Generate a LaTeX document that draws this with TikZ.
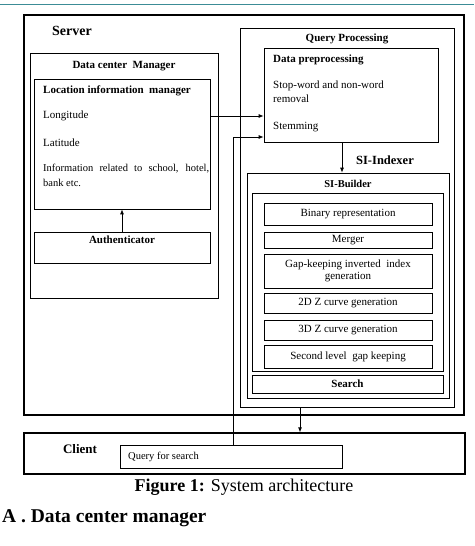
\documentclass[tikz,border=0pt]{standalone}
\usepackage{fontspec}
\setmainfont{Liberation Serif}
\usetikzlibrary{positioning, fit, arrows.meta}

\tikzset{
  box/.style={draw, line width=0.7pt, inner sep=0pt},
  outerbox/.style={draw, line width=1.3pt, inner sep=0pt},
  item/.style={draw, line width=0.7pt, inner sep=0pt},
  itemtext/.style={align=center, inner sep=0pt, font=\fontsize{11}{12}\selectfont},
  title/.style={font=\bfseries\fontsize{11}{12}\selectfont, inner sep=0pt},
  txt/.style={font=\fontsize{11}{12}\selectfont, inner sep=0pt, anchor=west},
  arr/.style={line width=0.8pt, -{Latex[length=5pt,width=4pt]}},
  link/.style={line width=0.8pt}
}

\begin{document}
\begin{tikzpicture}[x=1pt, y=-1pt]
	\useasboundingbox (0,0) rectangle (474,546);
	\draw [color={rgb,255:red,60;green,140;blue,150}, line width=1pt] (0,4) -- (474,4);

	% server side
	\node [outerbox, fit={(24,15) (464,415)}] (server) {};
	\node [title, font=\bfseries\fontsize{14}{15}\selectfont, anchor=west] (servert) at (52,31) {Server};

	\node [box, fit={(30,53) (218,298)}] (dcm) {};
	\node [title, below=8pt of dcm.north] (dcmt) {Data center\ \ Manager};
	\node [box, fit={(34,79) (210,209)}] (loc) {};
	\node [title, font=\bfseries\fontsize{11}{12}\selectfont, anchor=west] (loct) at (43,91) {Location information\ \ manager};
	\node [txt] (lon) at (43,116) {Longitude};
	\node [txt] (lat) at (43,143) {Latitude};
	\node [txt, font=\fontsize{10.5}{15}\selectfont, text width=166pt, align=justify, anchor=north west] (info) at (43,164) {Information related to school, hotel, bank etc.};
	\node [box, fit={(34,232) (210,263)}] (auth) {};
	\node [title, below=4pt of auth.north] (autht) {Authenticator};

	% query processing
	\node [box, fit={(240,28) (454,407)}] (qp) {};
	\node [title, below=6pt of qp.north] (qpt) {Query Processing};
	\node [box, fit={(264,48) (438,142)}] (dpp) {};
	\node [title, anchor=west] (dppt) at (273,60) {Data preprocessing};
	\node [txt] (stop) at (273,86) {Stop-word and non-word};
	\node [txt] (rem) at (273,99) {removal};
	\node [txt] (stem) at (273,127) {Stemming};

	\node [title, font=\bfseries\fontsize{12.5}{14}\selectfont] (siit) at (385,160) {SI-Indexer};
	\node [box, fit={(247,173) (449,398)}] (sii) {};
	\node [title, font=\bfseries\fontsize{10.5}{12}\selectfont, below=7pt of sii.north] (sibt) {SI-Builder};
	\node [box, fit={(252,193) (443,371)}] (sib) {};
	\node [item, fit={(264,203) (432,225)}, label={[itemtext]center:Binary representation}] (bin) {};
	\node [item, fit={(264,232) (432,248)}, label={[itemtext]center:Merger}] (merge) {};
	\node [item, fit={(264,254) (432,288)}, label={[itemtext]center:Gap-keeping inverted\ \ index\\generation}] (gap) {};
	\node [item, fit={(264,293) (432,313)}, label={[itemtext]center:2D Z curve generation}] (ztwo) {};
	\node [item, fit={(264,320) (432,340)}, label={[itemtext]center:3D Z curve generation}] (zthree) {};
	\node [item, fit={(264,345) (432,368)}, label={[itemtext]center:Second level\ \ gap keeping}] (second) {};
	\node [item, fit={(252,375) (443,393)}, label={[itemtext, font=\bfseries\fontsize{11}{12}\selectfont]center:Search}] (search) {};

	% client
	\node [outerbox, fit={(24,433) (465,474)}] (client) {};
	\node [title, font=\bfseries\fontsize{13}{14}\selectfont] (clientt) at (80,449) {Client};
	\node [box, fit={(120,445) (342,468)}] (query) {};
	\node [txt, font=\fontsize{10.5}{12}\selectfont] (queryt) at (128,457) {Query for search};

	% connectors
	\draw [arr] (auth.north) -- (loc.south);
	\draw [arr] (loc.east |- lon) -- (dpp.west |- lon);
	\coordinate (turn) at (233,137);
	\draw [arr] (query.north -| turn) -- (turn) -- (turn -| dpp.west);
	\coordinate (down) at (342,0);
	\draw [arr] (dpp.south -| down) -- (sii.north -| down);
	\coordinate (out) at (300,0);
	\draw [arr] (qp.south -| out) -- (client.north -| out);

	% caption and heading
	\node [font=\fontsize{18}{20}\selectfont, inner sep=0pt] (cap) at (244,487) {\textbf{Figure 1:} System architecture};
	\node [font=\bfseries\fontsize{19.5}{22}\selectfont, inner sep=0pt, anchor=west] (head) at (2,518) {A . Data center manager};
\end{tikzpicture}
\end{document}
